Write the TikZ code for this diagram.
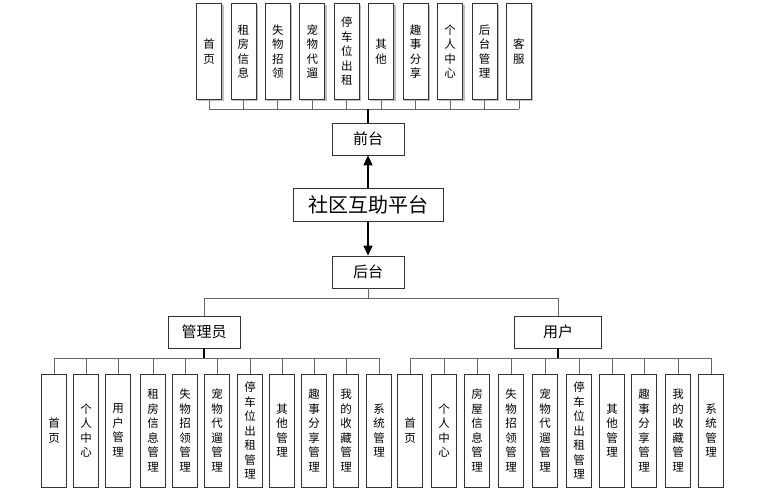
\documentclass[tikz,border=0pt]{standalone}
\usepackage{fontspec}
\setmainfont{Noto Sans CJK SC}
\usetikzlibrary{arrows.meta}
\begin{document}
\begin{tikzpicture}[x=1pt,y=-1pt,
  box/.style={draw=black!80,line width=0.7pt,fill=white,inner sep=0pt,
    drop shadow/.style={},align=center},
  vbox/.style={box,minimum width=25pt,font=\fontsize{11.5}{14.5}\selectfont},
  hbox/.style={box,minimum width=72pt,minimum height=32pt,font=\fontsize{15}{18}\selectfont},
  ln/.style={draw=black!60,line width=0.8pt},
  stem/.style={draw=black,line width=1.6pt}]
\useasboundingbox (0,0) rectangle (781,490);
% top
\foreach \t [count=\i] in {首\\页,租\\房\\信\\息,失\\物\\招\\领,宠\\物\\代\\遛,停\\车\\位\\出\\租,其\\他,趣\\事\\分\\享,个\\人\\中\\心,后\\台\\管\\理,客\\服}{
  \pgfmathsetmacro\xx{209+34.44*(\i-1)}
  \fill[black!25] (\xx-11.5,5) rectangle (\xx+14.5,101);
  \node[vbox,minimum height=96pt,text depth=0pt] (t\i) at (\xx,51) {\t};
  \draw[ln] (t\i.south) -- (\xx,109);
}
\draw[ln] (209,109) -- (519,109);
\node[hbox] (front) at (368,139) {前台};
\coordinate (tb) at (368,109);
\draw[stem] (front.north) -- (tb);
\node[hbox,minimum width=150pt,minimum height=33pt,font=\fontsize{20}{24}\selectfont] (main) at (368,205) {社区互助平台};
\node[hbox] (back) at (368,272) {后台};
\draw[stem,-{Triangle[length=10pt,width=9pt]}] (main.north) -- (front.south);
\draw[stem,-{Triangle[length=10pt,width=9pt]}] (main.south) -- (back.north);
\node[hbox] (admin) at (204,332) {管理员};
\node[hbox,minimum width=87pt] (user) at (558,332) {用户};
\coordinate (bb) at (368,298);
\draw[ln] (back.south) -- (bb);
\draw[ln] (204,298) -- (558,298);
\draw[ln] (204,298) -- (admin.north);
\draw[ln] (558,298) -- (user.north);
% left
\foreach \t/\xx [count=\i] in {首\\页/54,个\\人\\中\\心/86,用\\户\\管\\理/118,租\\房\\信\\息\\管\\理/153,失\\物\\招\\领\\管\\理/185,宠\\物\\代\\遛\\管\\理/217,停\\车\\位\\出\\租\\管\\理/250,其\\他\\管\\理/282,趣\\事\\分\\享\\管\\理/314,我\\的\\收\\藏\\管\\理/346,系\\统\\管\\理/379}{
  \node[vbox,minimum height=113pt] (l\i) at (\xx,430.5) {\t};
  \draw[ln] (l\i.north) -- (\xx,358);
}
\draw[ln] (54,358) -- (379,358);
\draw[stem] (admin.south) -- (204,358);
% right
\foreach \t/\xx [count=\i] in {首\\页/410,个\\人\\中\\心/444,房\\屋\\信\\息\\管\\理/477,失\\物\\招\\领\\管\\理/511,宠\\物\\代\\遛\\管\\理/545,停\\车\\位\\出\\租\\管\\理/579,其\\他\\管\\理/612,趣\\事\\分\\享\\管\\理/644,我\\的\\收\\藏\\管\\理/678,系\\统\\管\\理/711}{
  \node[vbox,minimum height=113pt] (r\i) at (\xx,430.5) {\t};
  \draw[ln] (r\i.north) -- (\xx,358);
}
\draw[ln] (410,358) -- (711,358);
\draw[stem] (user.south) -- (558,358);
\end{tikzpicture}
\end{document}
